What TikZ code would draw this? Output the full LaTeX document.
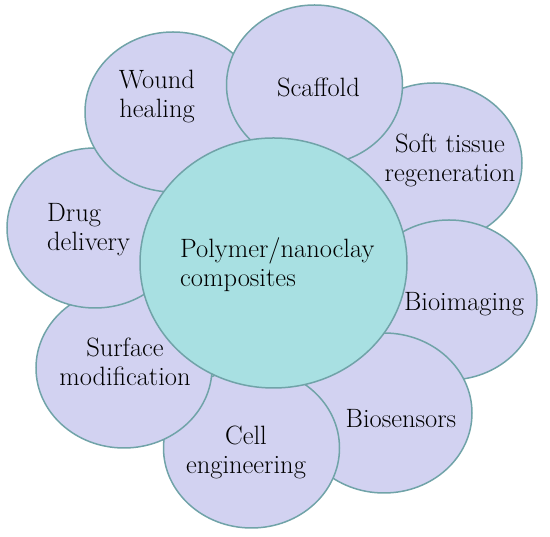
\documentclass[tikz,border=0pt]{standalone}
\usepackage{fontspec}
\usetikzlibrary{shapes.geometric}
\definecolor{lav}{RGB}{210,210,241}
\definecolor{aqua}{RGB}{168,224,226}
\definecolor{rim}{RGB}{112,163,168}
\begin{document}
\begin{tikzpicture}[x=1pt,y=1pt, font=\fontsize{26.5}{29}\selectfont,
  petal/.style={ellipse,draw=rim,fill=lav,line width=1.5pt,minimum width=176pt,minimum height=160pt,inner sep=0pt},
  hub/.style={ellipse,draw=rim,fill=aqua,line width=1.5pt,minimum width=267pt,minimum height=250pt,inner sep=0pt},
  txt/.style={align=center,inner sep=0pt}]
  \useasboundingbox (0,0) rectangle (550,537);
  % petals, each one laid over the one before it
  \foreach \n/\x/\y in {soft/434/374,imaging/449/237,sensors/384/124,cell/251.5/89,
                        surface/124/169,drug/95/309,wound/173/425,scaffold/314.5/452}
     \node[petal](\n) at (\x,\y) {};
  \node[hub](hub) at (273.5,274) {};
  % labels
  \node[txt,align=left,anchor=west](thub) at (180,272) {Polymer/nanoclay\\composites};
  \node[txt](tscaffold) at (318.5,450) {Scaffold};
  \node[txt](tsoft) at (450,377) {Soft tissue\\regeneration};
  \node[txt](timaging) at (464,233) {Bioimaging};
  \node[txt](tsensors) at (401,118.5) {Biosensors};
  \node[txt](tcell) at (246,85) {Cell\\engineering};
  \node[txt](tsurface) at (125,175) {Surface\\modification};
  \node[txt,align=left,anchor=west](tdrug) at (47,307.5) {Drug\\delivery};
  \node[txt](twound) at (157,440) {Wound\\healing};
\end{tikzpicture}
\end{document}
